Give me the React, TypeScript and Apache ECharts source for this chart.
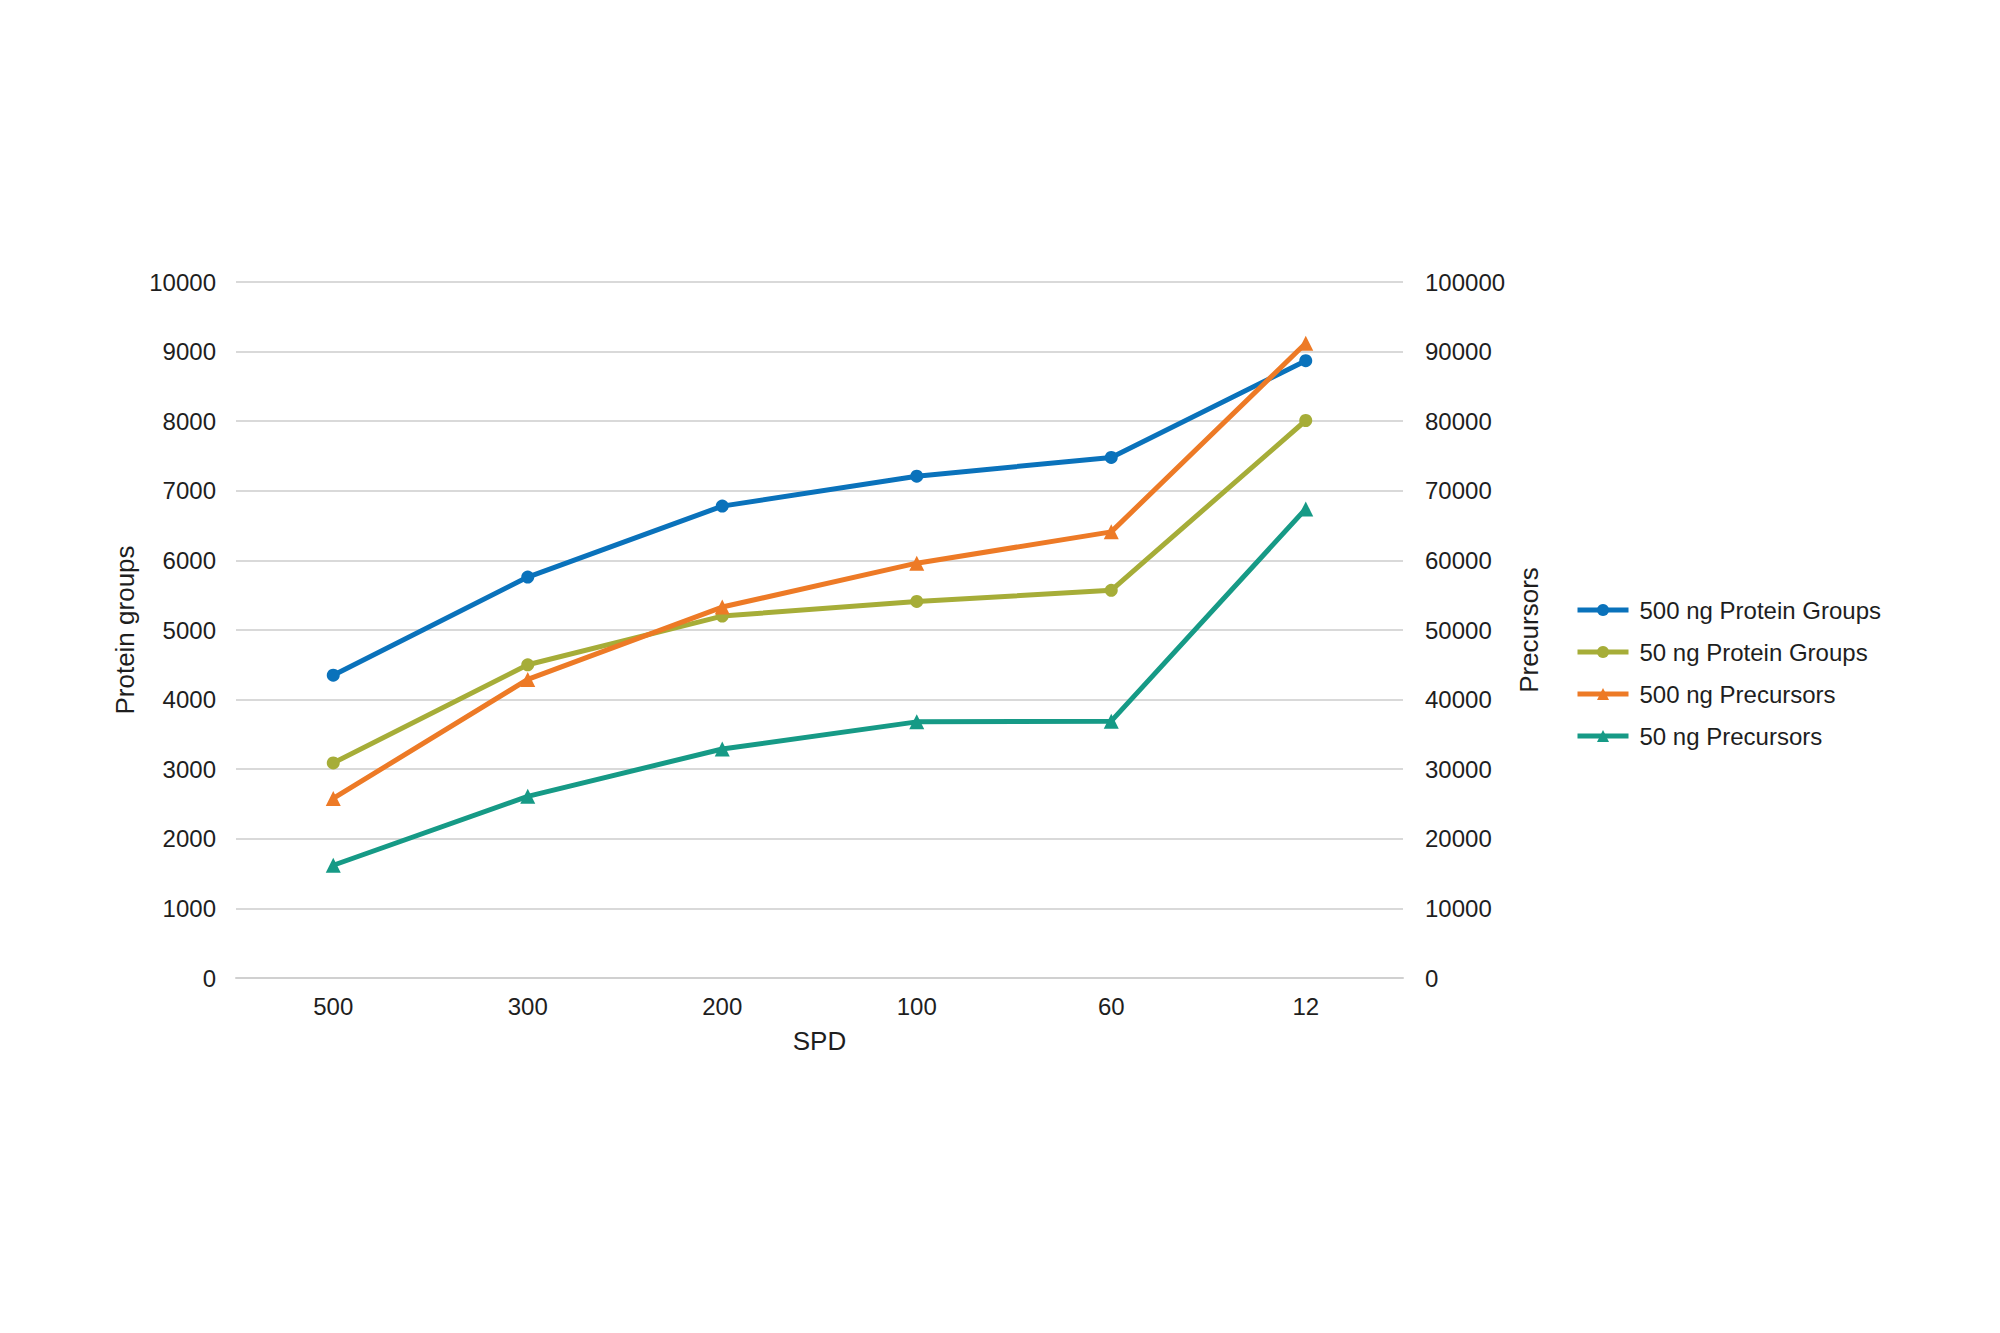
import React, { useEffect, useRef } from "react";
import * as echarts from "echarts";

// Samples per day (throughput) on the category axis
const spdLabels = ["500", "300", "200", "100", "60", "12"];

// Identified protein groups (left axis)
const proteinGroups500ng = [4350, 5760, 6780, 7210, 7480, 8870];
const proteinGroups50ng = [3090, 4500, 5200, 5410, 5570, 8010];

// Identified precursors (right axis)
const precursors500ng = [25800, 42900, 53300, 59600, 64100, 91200];
const precursors50ng = [16200, 26100, 32900, 36800, 36900, 67400];

const leftTicks = { min: 0, max: 10000, interval: 1000 };
const rightTicks = { min: 0, max: 100000, interval: 10000 };

const FONT = "'Liberation Sans', Arial, Helvetica, sans-serif";
const TEXT_COLOR = "#1e1e1e";

export default function App() {
  const ref = useRef<HTMLDivElement>(null);

  useEffect(() => {
    document.body.style.margin = "0";
    if (!ref.current) return;
    const chart = echarts.init(ref.current, undefined, { renderer: "svg" });

    const lineSeries = (
      name: string,
      data: number[],
      color: string,
      symbol: string,
      symbolSize: number,
      yAxisIndex: number
    ) => ({
      name,
      type: "line",
      data,
      yAxisIndex,
      symbol,
      symbolSize,
      showSymbol: true,
      lineStyle: { color, width: 5 },
      itemStyle: { color },
      emphasis: { disabled: true },
    });

    const plain = (v: number) => String(v);

    chart.setOption({
      animation: false,
      backgroundColor: "#ffffff",
      textStyle: { fontFamily: FONT, color: TEXT_COLOR },
      grid: { left: 236, right: 597, top: 282, bottom: 355, containLabel: false },
      legend: {
        orient: "vertical",
        left: 1570,
        top: 593,
        itemWidth: 51,
        itemHeight: 15,
        itemGap: 18,
        lineStyle: { width: 5 },
        textStyle: { fontFamily: FONT, fontSize: 24, color: TEXT_COLOR, padding: [0, 0, 0, 6] },
        data: [
          "500 ng Protein Groups",
          "50 ng Protein Groups",
          "500 ng Precursors",
          "50 ng Precursors",
        ],
      },
      xAxis: {
        type: "category",
        data: spdLabels,
        boundaryGap: true,
        name: "SPD",
        nameLocation: "middle",
        nameGap: 50,
        nameTextStyle: { fontFamily: FONT, fontSize: 26, color: TEXT_COLOR },
        axisLine: { show: true, lineStyle: { color: "#d0d0d0", width: 2 } },
        axisTick: { show: false },
        axisLabel: { fontFamily: FONT, fontSize: 24, color: TEXT_COLOR, margin: 16 },
      },
      yAxis: [
        {
          type: "value",
          position: "left",
          min: leftTicks.min,
          max: leftTicks.max,
          interval: leftTicks.interval,
          name: "Protein groups",
          nameLocation: "middle",
          nameRotate: 90,
          nameGap: 85,
          nameTextStyle: { fontFamily: FONT, fontSize: 26, color: TEXT_COLOR },
          axisLine: { show: false },
          axisTick: { show: false },
          axisLabel: { fontFamily: FONT, fontSize: 24, color: TEXT_COLOR, margin: 20, formatter: plain },
          splitLine: { show: true, lineStyle: { color: "#d9d9d9", width: 2 } },
        },
        {
          type: "value",
          position: "right",
          min: rightTicks.min,
          max: rightTicks.max,
          interval: rightTicks.interval,
          name: "Precursors",
          nameLocation: "middle",
          nameRotate: 90,
          nameGap: 101,
          nameTextStyle: { fontFamily: FONT, fontSize: 26, color: TEXT_COLOR },
          axisLine: { show: false },
          axisTick: { show: false },
          axisLabel: { fontFamily: FONT, fontSize: 24, color: TEXT_COLOR, margin: 22, formatter: plain },
          splitLine: { show: false },
        },
      ],
      series: [
        lineSeries("500 ng Protein Groups", proteinGroups500ng, "#0a72bb", "circle", 13, 0),
        lineSeries("50 ng Protein Groups", proteinGroups50ng, "#a6ad38", "circle", 13, 0),
        lineSeries("500 ng Precursors", precursors500ng, "#ed7a26", "triangle", 15, 1),
        lineSeries("50 ng Precursors", precursors50ng, "#169a86", "triangle", 15, 1),
      ],
    });

    return () => chart.dispose();
  }, []);

  return <div ref={ref} style={{ width: 2000, height: 1333 }} />;
}
